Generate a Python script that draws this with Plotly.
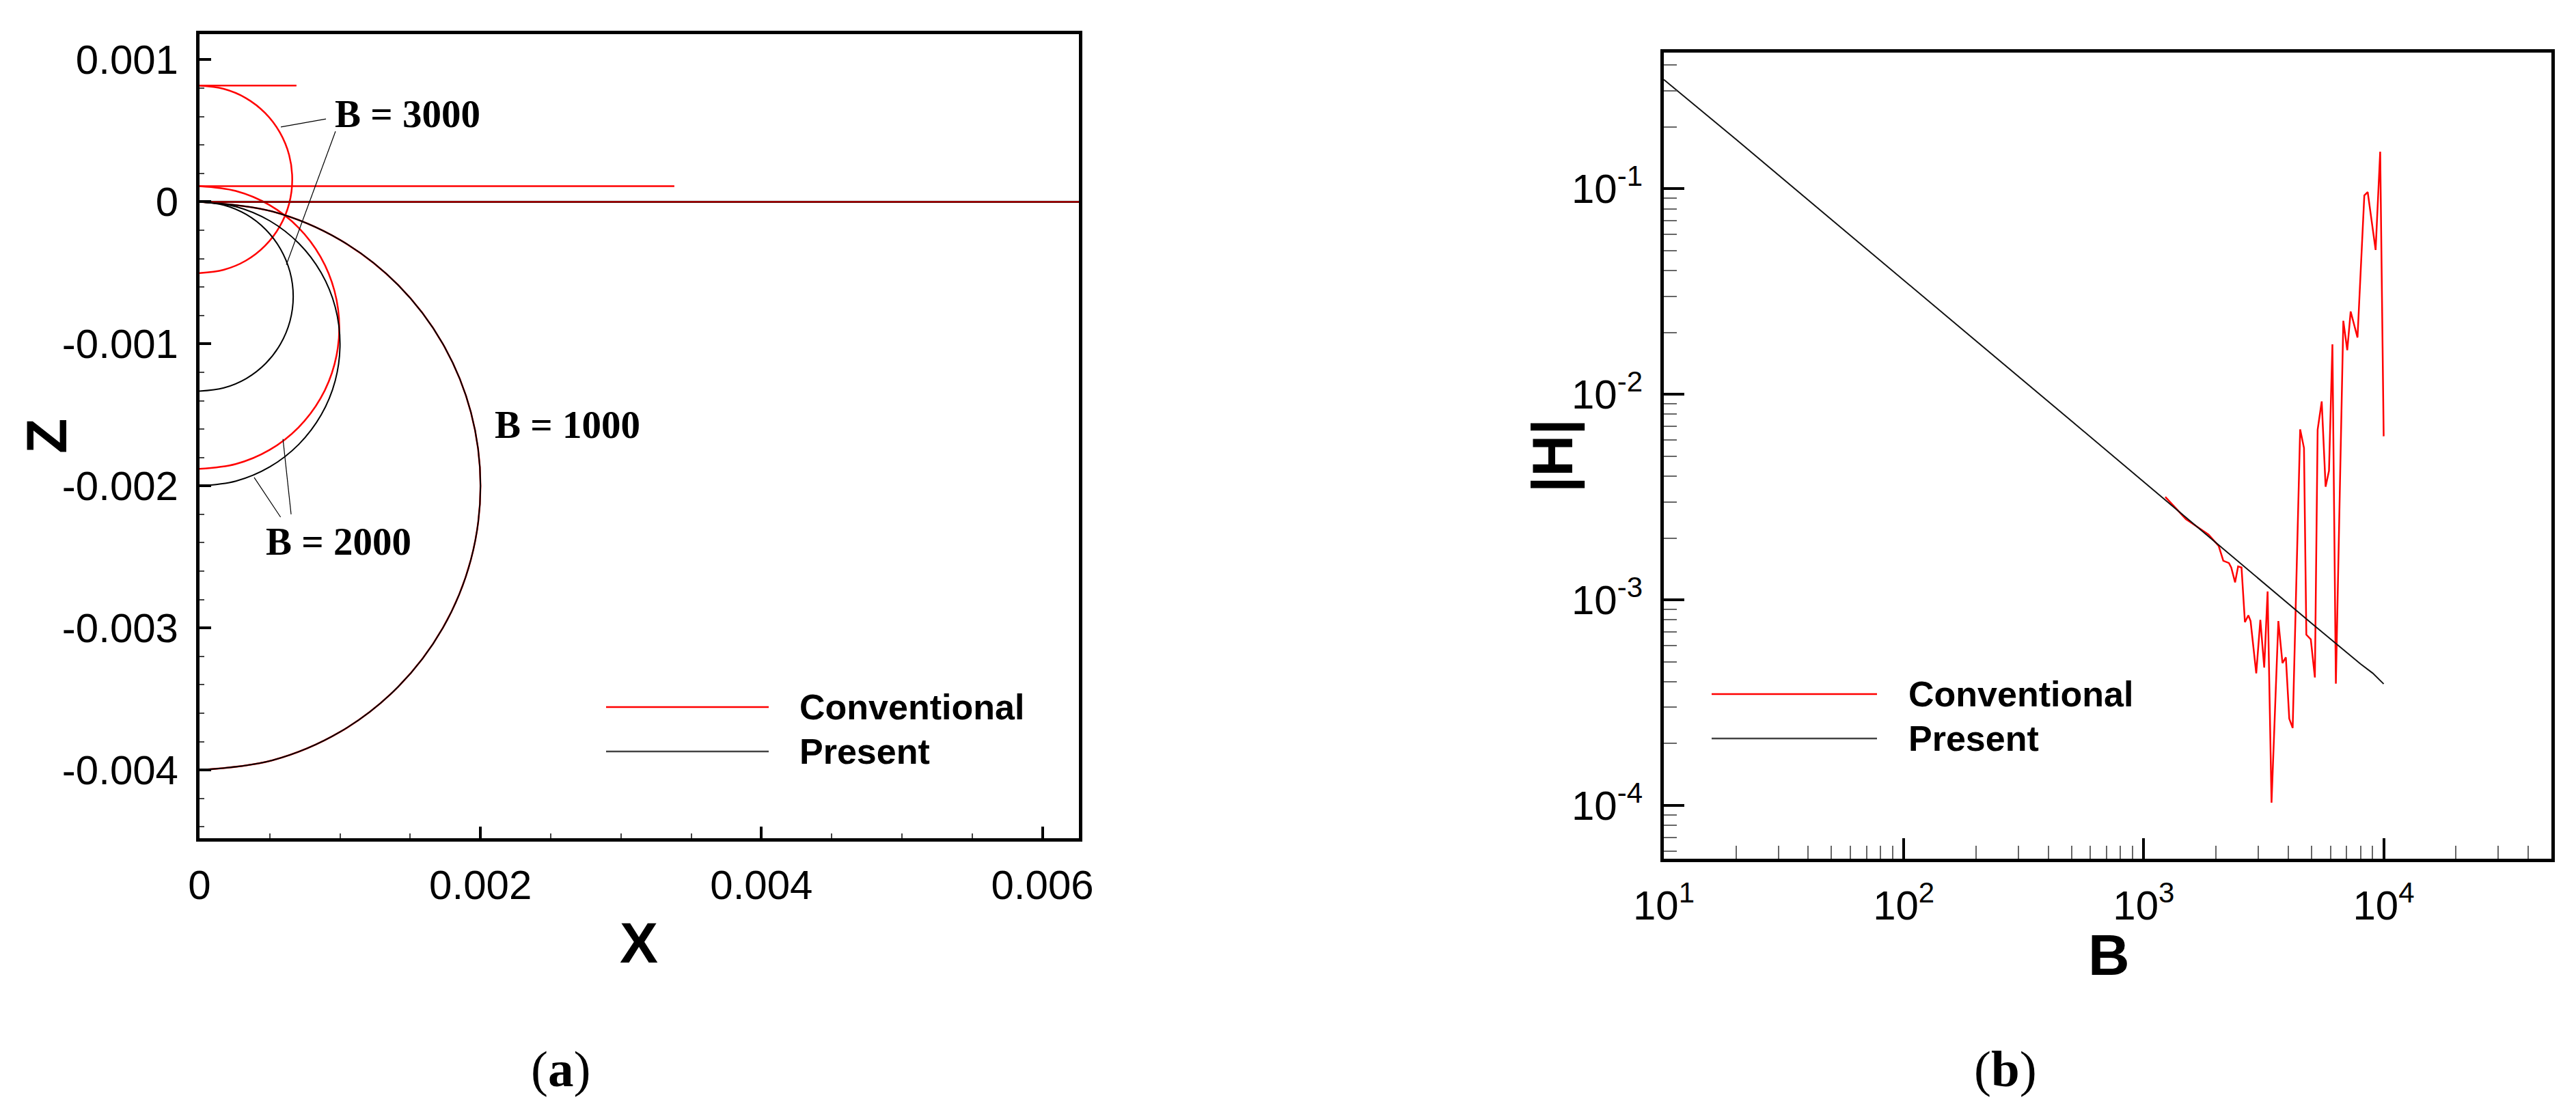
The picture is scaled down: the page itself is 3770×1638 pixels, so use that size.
import plotly.graph_objects as go

W, H = 3770, 1638

# ---------------- Panel (a): trajectories in the X-Z plane ----------------
# Present (black) curves
pres_1000_x = [0, 0.000518, 0.001, 0.001414, 0.001732, 0.001932, 0.002, 0.001932, 0.001732, 0.001414, 0.001, 0.000518, 0]
pres_1000_z = [0, -0.000068, -0.000268, -0.000586, -0.001, -0.001482, -0.002, -0.002518, -0.003, -0.003414, -0.003732, -0.003932, -0.004]
pres_2000_x = [0, 0.000259, 0.0005, 0.000707, 0.000866, 0.000966, 0.001, 0.000966, 0.000866, 0.000707, 0.0005, 0.000259, 0]
pres_2000_z = [0, -0.000034, -0.000134, -0.000293, -0.0005, -0.000741, -0.001, -0.001259, -0.0015, -0.001707, -0.001866, -0.001966, -0.002]
pres_3000_x = [0, 0.000173, 0.000333, 0.000471, 0.000577, 0.000644, 0.000667, 0.000644, 0.000577, 0.000471, 0.000333, 0.000173, 0]
pres_3000_z = [0, -0.000023, -0.000089, -0.000195, -0.000333, -0.000494, -0.000667, -0.00084, -0.001, -0.001138, -0.001244, -0.00131, -0.001333]
pres_flat_x = [0, 0.0065]
pres_flat_z = [0, 0]

# Conventional (red) curves
conv_1000_x = pres_1000_x
conv_1000_z = pres_1000_z
conv_2000_x = [0, 0.000258, 0.000498, 0.000704, 0.000862, 0.000961, 0.000995, 0.000961, 0.000862, 0.000704, 0.000498, 0.000258, 0]
conv_2000_z = [0.00011, 0.000076, -0.000023, -0.000181, -0.000388, -0.000628, -0.000885, -0.001143, -0.001383, -0.001589, -0.001747, -0.001846, -0.00188]
conv_3000_x = [0, 0.000171, 0.00033, 0.000467, 0.000572, 0.000638, 0.00066, 0.000638, 0.000572, 0.000467, 0.00033, 0.000171, 0]
conv_3000_z = [0.000818, 0.000795, 0.00073, 0.000625, 0.000488, 0.000329, 0.000158, -0.000013, -0.000172, -0.000309, -0.000414, -0.000479, -0.000502]
conv_flat_1000_x = [0, 0.0065]
conv_flat_1000_z = [0, 0]
conv_flat_2000_x = [0, 0.00338]
conv_flat_2000_z = [0.00011, 0.00011]
conv_flat_3000_x = [0, 0.00069]
conv_flat_3000_z = [0.000818, 0.000818]

xa_ticks = [0, 0.002, 0.004, 0.006]
xa_labels = ["0", "0.002", "0.004", "0.006"]
za_ticks = [0.001, 0, -0.001, -0.002, -0.003, -0.004]
za_labels = ["0.001", "0", "-0.001", "-0.002", "-0.003", "-0.004"]

# ---------------- Panel (b): |H| versus B ----------------
present_B = [10, 20, 50, 100, 200, 500, 1000, 2000, 5000, 8000, 9000, 10000]
present_H = [0.340, 0.174, 0.0708, 0.0358, 0.0182, 0.00742, 0.00375, 0.00190, 0.00077, 0.000488, 0.00044, 0.00039]

conv_B = [1230, 1500, 1862, 2053, 2146, 2265, 2316, 2403, 2474, 2556, 2641, 2729, 2788, 2944, 3062,
          3178, 3283, 3409, 3640, 3786, 3912, 4042, 4176, 4487, 4655, 4761, 4969, 5168, 5306, 5518,
          5728, 5918, 6115, 6321, 6790, 7050, 7285, 7780, 8305, 8579, 9256, 9671, 10000]
conv_H = [3.17e-3, 2.47e-3, 2.08e-3, 1.83e-3, 1.55e-3, 1.51e-3, 1.437e-3, 1.217e-3, 1.455e-3, 1.437e-3,
          7.79e-4, 8.41e-4, 7.89e-4, 4.39e-4, 7.99e-4, 4.68e-4, 1.099e-3, 1.03e-4, 7.89e-4, 4.92e-4,
          5.25e-4, 2.64e-4, 2.38e-4, 6.75e-3, 5.48e-3, 6.77e-4, 6.43e-4, 4.19e-4, 6.72e-3, 9.24e-3,
          3.55e-3, 4.25e-3, 1.75e-2, 3.91e-4, 2.28e-2, 1.64e-2, 2.53e-2, 1.89e-2, 9.29e-2, 9.65e-2,
          5.04e-2, 0.1515, 6.25e-3]

xb_ticks = [10, 100, 1000, 10000]
xb_labels = ["10<sup>1</sup>", "10<sup>2</sup>", "10<sup>3</sup>", "10<sup>4</sup>"]
yb_ticks = [1e-4, 1e-3, 1e-2, 1e-1]
yb_labels = ["10<sup>-4</sup>", "10<sup>-3</sup>", "10<sup>-2</sup>", "10<sup>-1</sup>"]
xb_minor = [d * 10 ** e for e in range(1, 5) for d in range(2, 10)]
yb_minor = [d * 10.0 ** e for e in range(-5, 0) for d in range(2, 10)]

RED = "#ff0000"
BLACK = "#000000"
SANS = "Liberation Sans, Arial, sans-serif"
SERIF = "Liberation Serif, Times New Roman, serif"

fig = go.Figure()

def add_line(x, y, color, width, xa, ya, shape="linear"):
    fig.add_trace(go.Scatter(x=x, y=y, mode="lines", xaxis=xa, yaxis=ya, showlegend=False,
                             hoverinfo="skip",
                             line=dict(color=color, width=width, shape=shape, smoothing=1.0)))

# panel (a): red first, black on top
for xs, zs in [(conv_flat_3000_x, conv_flat_3000_z), (conv_flat_2000_x, conv_flat_2000_z)]:
    add_line(xs, zs, RED, 2.5, "x", "y")
for xs, zs in [(conv_3000_x, conv_3000_z), (conv_2000_x, conv_2000_z), (conv_1000_x, conv_1000_z)]:
    add_line(xs, zs, RED, 2.5, "x", "y", "spline")
add_line(pres_flat_x, pres_flat_z, BLACK, 3, "x", "y")
add_line(conv_flat_1000_x, conv_flat_1000_z, RED, 1.5, "x", "y")
for xs, zs in [(pres_3000_x, pres_3000_z), (pres_2000_x, pres_2000_z), (pres_1000_x, pres_1000_z)]:
    add_line(xs, zs, BLACK, 2, "x", "y", "spline")

# panel (b)
add_line(conv_B, conv_H, RED, 2.5, "x2", "y2")
add_line(present_B, present_H, "#111111", 2, "x2", "y2")

tickfont = dict(family=SANS, size=60, color="black")
axis_common = dict(showline=True, linewidth=5, linecolor="black", mirror=True, showgrid=False,
                   zeroline=False, ticks="inside", tickcolor="black", tickfont=tickfont,
                   automargin=False)

fig.update_layout(
    width=W, height=H, margin=dict(l=0, r=0, t=0, b=0, autoexpand=False),
    paper_bgcolor="white", plot_bgcolor="white", showlegend=False,
    xaxis=dict(domain=[292 / W, 1579 / W], range=[0, 0.00626], anchor="y",
               tickmode="array", tickvals=xa_ticks, ticktext=xa_labels, ticklen=17, tickwidth=4,
               ticklabelstandoff=12,
               minor=dict(tickmode="linear", tick0=0, dtick=0.0005, ticks="inside", ticklen=7,
                          tickwidth=2, tickcolor="#444"),
               **axis_common),
    yaxis=dict(domain=[1 - 1227 / H, 1 - 50 / H], range=[-0.00448, 0.00118], anchor="x",
               tickmode="array", tickvals=za_ticks, ticktext=za_labels, ticklen=17, tickwidth=4,
               ticklabelstandoff=14,
               minor=dict(tickmode="linear", tick0=0, dtick=0.0002, ticks="inside", ticklen=7,
                          tickwidth=2, tickcolor="#444"),
               **axis_common),
    xaxis2=dict(domain=[2435 / W, 3734 / W], type="log", range=[1, 4.699], anchor="y2",
                tickmode="array", tickvals=xb_ticks, ticktext=xb_labels, ticklen=30, tickwidth=4,
                ticklabelstandoff=12,
                minor=dict(tickmode="array", tickvals=xb_minor, ticks="inside", ticklen=19,
                           tickwidth=2, tickcolor="#666"),
                **axis_common),
    yaxis2=dict(domain=[1 - 1257 / H, 1 - 77 / H], type="log", range=[-4.2596, -0.3372], anchor="x2",
                tickmode="array", tickvals=yb_ticks, ticktext=yb_labels, ticklen=30, tickwidth=4,
                ticklabelstandoff=14,
                minor=dict(tickmode="array", tickvals=yb_minor, ticks="inside", ticklen=19,
                           tickwidth=2, tickcolor="#666"),
                **axis_common),
)

def px(x):
    return x / W

def py(y):
    return 1 - y / H

annotations = []
shapes = []

def text(xp, yp, s, size, family=SANS, bold=False, angle=0, xanchor="center"):
    annotations.append(dict(x=px(xp), y=py(yp), xref="paper", yref="paper", text=s, showarrow=False,
                            textangle=angle, xanchor=xanchor, yanchor="middle",
                            font=dict(family=family, size=size, color="black",
                                      weight="bold" if bold else "normal")))

# axis titles
text(68, 639, "Z", 84, bold=True, angle=-90)
text(935, 1380, "X", 84, bold=True)
text(2272, 667, "|H|", 84, bold=True, angle=-90)
text(3086, 1398, "B", 84, bold=True)

# panel labels
text(820, 1564, "(<b>a</b>)", 75, family=SERIF)
text(2935, 1564, "(<b>b</b>)", 75, family=SERIF)

# curve labels in panel (a)
for label, xd, zd in [("B = 3000", 0.00148, 0.00062), ("B = 1000", 0.00262, -0.00157),
                      ("B = 2000", 0.00099, -0.00239)]:
    annotations.append(dict(x=xd, y=zd, xref="x", yref="y", text=label, showarrow=False,
                            xanchor="center", yanchor="middle",
                            font=dict(family=SERIF, size=57, color="black", weight="bold")))

# leader lines from the labels
for x0, y0, x1, y1 in [(0.000900, 0.000583, 0.000579, 0.000527),
                       (0.000968, 0.000496, 0.000618, -0.000443),
                       (0.000577, -0.00222, 0.000389, -0.00194),
                       (0.000652, -0.00220, 0.000594, -0.00167)]:
    shapes.append(dict(type="line", xref="x", yref="y", x0=x0, y0=y0, x1=x1, y1=y1,
                       line=dict(color="black", width=1.2)))

# manual legends
for (lx0, lx1, ly_red, ly_blk, tx) in [(887, 1125, 1035, 1100, 1168), (2505, 2747, 1016, 1081, 2791)]:
    shapes.append(dict(type="line", xref="paper", yref="paper", x0=px(lx0), x1=px(lx1),
                       y0=py(ly_red), y1=py(ly_red), line=dict(color=RED, width=2.5)))
    shapes.append(dict(type="line", xref="paper", yref="paper", x0=px(lx0), x1=px(lx1),
                       y0=py(ly_blk), y1=py(ly_blk), line=dict(color="#444444", width=2.5)))
    text(tx, ly_red, "Conventional", 52, bold=True, xanchor="left")
    text(tx, ly_blk, "Present", 52, bold=True, xanchor="left")

fig.update_layout(annotations=annotations, shapes=shapes)

fig.write_html("out.html", config={"displayModeBar": False},
               post_script="document.body.style.margin='0';document.body.style.overflow='hidden';")
